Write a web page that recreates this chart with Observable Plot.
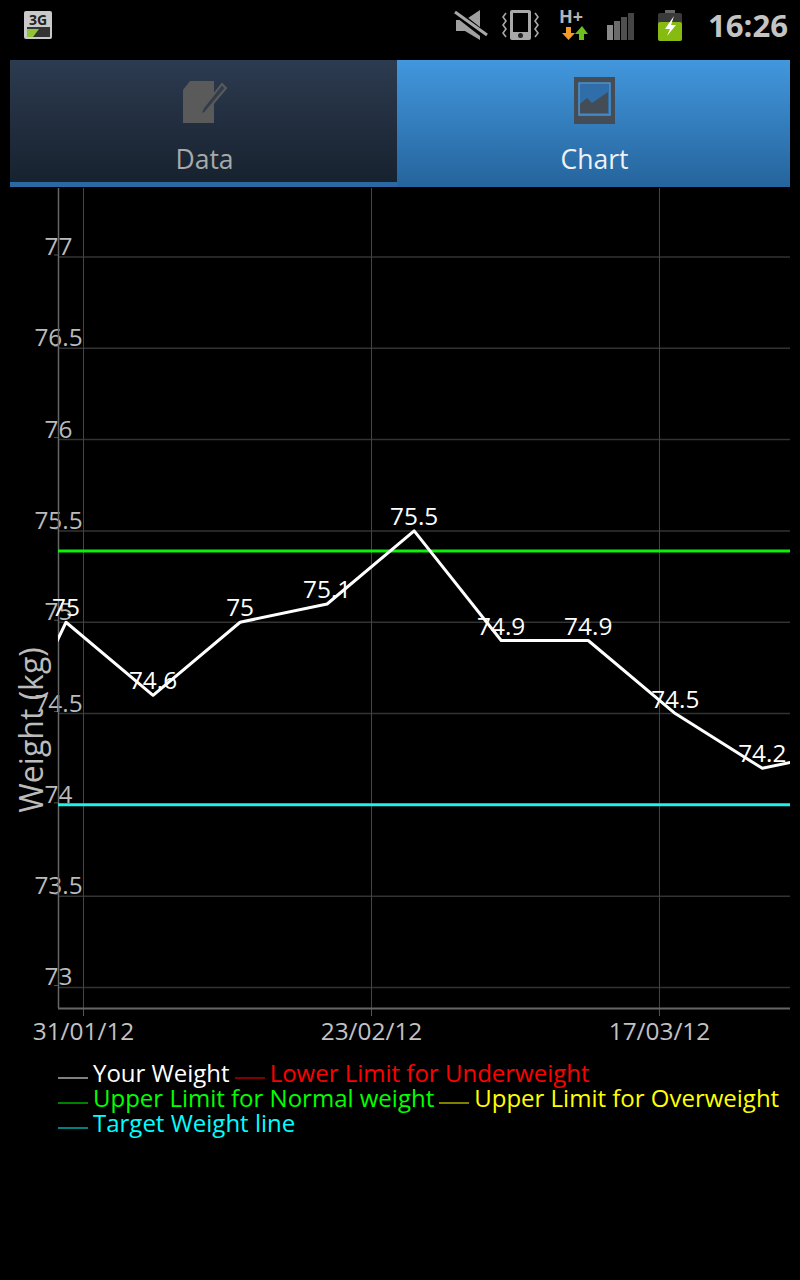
<!DOCTYPE html>
<html>
<head>
<meta charset="utf-8">
<script src="https://cdn.jsdelivr.net/npm/d3@7"></script>
<script src="https://cdn.jsdelivr.net/npm/@observablehq/plot@0.6"></script>
<style>
html,body{margin:0;padding:0;background:#000;width:800px;height:1280px;overflow:hidden;font-family:"Open Sans",sans-serif}
#top{position:relative;width:800px;height:188px;background:#000}
#top svg.icons{position:absolute;left:0;top:0}
.tab{position:absolute;top:60px;text-align:center;font-size:26.5px;box-sizing:border-box}
#tabData{left:10px;width:387px;height:122px;background:linear-gradient(#2d3b50,#17222f);color:#a9a9a9}
#tabChart{left:397px;width:393px;height:127px;background:linear-gradient(#4297dd,#25649c);color:#eef2f5}
#strip{position:absolute;left:10px;top:182px;width:387px;height:5px;background:#2a69a4}
.tab span{position:absolute;left:2px;right:0;top:81px;line-height:36px}
#legend{position:absolute;left:58px;top:1060px;width:742px;font-size:24px;line-height:25.2px;white-space:nowrap}
#legend .row{height:25.2px}
#legend i{display:inline-block;width:30px;height:2px;vertical-align:3px;margin-right:5px}
#legend b{font-weight:400;margin-right:5px}
#chart{position:absolute;left:0;top:188px}
</style>
</head>
<body>
<div id="top">
  <div class="tab" id="tabData"><span>Data</span></div>
  <div class="tab" id="tabChart"><span>Chart</span></div>
  <div id="strip"></div>
  <svg class="icons" width="800" height="188" font-family="Open Sans" >
    <rect x="24" y="11" width="28" height="28" rx="2" fill="#c9c9c9"/>
    <rect x="27" y="27" width="23" height="10" fill="#333"/>
    <path d="M27 37 L27 29 L39 29 L33 37Z" fill="#8fc33a"/>
    <text x="38" y="25" font-size="14" font-weight="700" text-anchor="middle" fill="#222">3G</text>
    <path d="M456 20 L465 20 L480 10 L480 40 L465 31 L456 31Z" fill="#a0a0a0"/>
    <path d="M455 12 L487 37" stroke="#000" stroke-width="7"/>
    <path d="M455 12 L487 35" stroke="#a8a8a8" stroke-width="3"/>
    <rect x="510" y="10" width="21" height="30" rx="2" fill="#a8a8a8"/>
    <rect x="513" y="13" width="15" height="19" fill="#000"/>
    <circle cx="520.5" cy="35.5" r="2.5" fill="#222"/>
    <path d="M506 13 l-3 4 l3 4 l-3 4 l3 4 l-3 4 l3 4 M535 13 l3 4 l-3 4 l3 4 l-3 4 l3 4 l-3 4" fill="none" stroke="#a8a8a8" stroke-width="1.6"/>
    <text x="559" y="23" font-size="18" font-weight="700" fill="#b5b5b5">H+</text>
    <path d="M566 27 h5 v6 h4 l-6.500 7 l-6.500 -7 h4z" fill="#f39a2b"/>
    <path d="M582 26 l6 8 h-4 v6 h-5 v-6 h-4z" fill="#6cbf1e"/>
    <rect x="607" y="25" width="6" height="15" fill="#8a8a8a"/>
    <rect x="614" y="21" width="6" height="19" fill="#6a6a6a"/>
    <rect x="621" y="17" width="6" height="23" fill="#505050"/>
    <rect x="628" y="13" width="6" height="27" fill="#454545"/>
    <rect x="665" y="10" width="10" height="3" fill="#666"/>
    <rect x="658" y="13" width="24" height="28" rx="2" fill="#3a3a3a"/>
    <rect x="658" y="22" width="24" height="19" rx="2" fill="#86bb12"/>
    <path d="M674 16 L665 29 L670 29 L667 36 L676 25 L671 25Z" fill="#fff"/>
    <text x="788" y="37" font-size="31" font-weight="700" text-anchor="end" fill="#c4c4c4" textLength="80" lengthAdjust="spacingAndGlyphs">16:26</text>
    <path d="M190 81 L214 81 L214 123 L183 123 L183 90Z" fill="#5a5a5a"/>
    <path d="M226 88 L204 114 L201 113 L203 108 L222 84Z" fill="#333d4a" stroke="#5a5a5a" stroke-width="2"/>
    <rect x="574" y="77" width="41" height="47" fill="#444c55"/>
    <rect x="579" y="83" width="31" height="32" fill="#2f6ea8" stroke="#4a92d0" stroke-width="1.5"/>
    <path d="M580 113 L580 104 L587 98 L592 103 L608 92 L608 113Z" fill="#444c55"/>
  </svg>
</div>
<div id="chart"></div>
<div id="legend">
  <div class="row"><i style="background:#808080"></i><b style="color:#fff">Your Weight</b><i style="background:#800000"></i><b style="color:#f00">Lower Limit for Underweight</b></div>
  <div class="row"><i style="background:#008000"></i><b style="color:#0f0">Upper Limit for Normal weight</b><i style="background:#808000"></i><b style="color:#ff0">Upper Limit for Overweight</b></div>
  <div class="row"><i style="background:#008080"></i><b style="color:#0ff">Target Weight line</b></div>
</div>
<script>
const dates = ["2012-01-23","2012-01-30","2012-02-06","2012-02-13","2012-02-20","2012-02-27","2012-03-05","2012-03-12","2012-03-19","2012-03-26","2012-04-02"];
const weights = [74.0,75,74.6,75,75.1,75.5,74.9,74.9,74.5,74.2,74.3];
const shownLabels = ["","75","74.6","75","75.1","75.5","74.9","74.9","74.5","74.2",""];
const yTicks = [73,73.5,74,74.5,75,75.5,76,76.5,77];
const xTicks = ["2012-01-31T09:46Z","2012-02-23T13:40Z","2012-03-17T17:31Z"].map(d=>new Date(d));
const xDomain = ["2012-01-29T09:30Z","2012-03-28T06:26Z"].map(d=>new Date(d));
const yDomain = [72.885,77.375];
const upperNormal = 75.39;
const target = 74.0;
const axisTitle = "Weight (kg)";
const axisTitleAt = 74.41;

const rows = dates.map((d,i)=>({date:new Date(d+"T00:00Z"),weight:weights[i],label:shownLabels[i]}));
const fmt = d3.utcFormat("%d/%m/%y");

const plot = Plot.plot({
  width:800,height:868,
  marginLeft:58,marginRight:10,marginTop:0,marginBottom:48,
  style:{background:"#000",color:"#bbb",fontFamily:"'Open Sans',sans-serif",fontSize:"24px"},
  x:{type:"utc",domain:xDomain,label:null},
  y:{domain:yDomain,label:null},
  marks:[
    Plot.gridY(yTicks,{stroke:"#333",strokeOpacity:1,strokeWidth:1.5}),
    Plot.gridX(xTicks,{stroke:"#444",strokeOpacity:1,strokeWidth:1}),
    Plot.axisX(xTicks,{tickSize:8,tickPadding:6,stroke:"#555",fill:"#c2c2c2",fontSize:24.4,tickFormat:fmt,label:null}),
    Plot.axisY(yTicks,{tickSize:4,tickPadding:-4,textAnchor:"middle",dy:-2,lineAnchor:"bottom",stroke:"#555",fill:"#bbb",fontSize:24.4,tickFormat:String,label:null}),
    Plot.ruleX([xDomain[0]],{stroke:"#666",strokeWidth:1.5}),
    Plot.ruleY([yDomain[0]],{stroke:"#666",strokeWidth:2}),
    Plot.ruleY([upperNormal],{stroke:"#0cf00c",strokeWidth:3}),
    Plot.ruleY([target],{stroke:"#20f0f0",strokeWidth:3}),
    Plot.line(rows,{x:"date",y:"weight",stroke:"#fff",strokeWidth:3,clip:"frame",curve:"linear"}),
    Plot.text(rows,{x:"date",y:"weight",text:"label",fill:"#fff",fontSize:24.4,dy:-6,lineAnchor:"bottom",clip:false}),
    Plot.text([axisTitle],{y:()=>axisTitleAt,frameAnchor:"left",textAnchor:"middle",dx:-26,rotate:-90,fill:"#bbb",fontSize:32,text:d=>d})
  ]
});
document.getElementById("chart").appendChild(plot);
</script>
</body>
</html>
